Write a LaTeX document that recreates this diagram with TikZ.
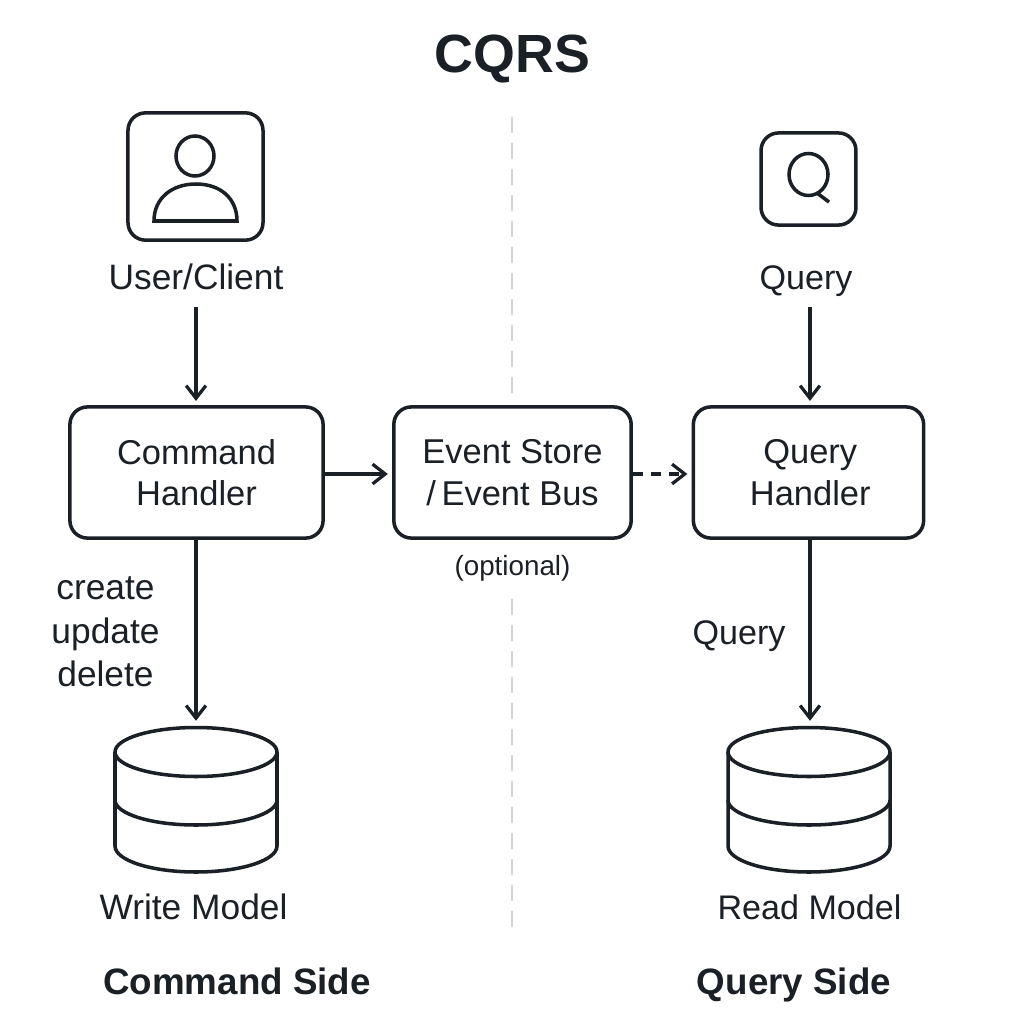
\documentclass[tikz,border=0pt]{standalone}
\usepackage{fontspec}
\setmainfont{Liberation Sans}
\usetikzlibrary{arrows.meta,positioning}
\definecolor{ink}{HTML}{1B2026}
\definecolor{divgray}{HTML}{D0D4DA}
\tikzset{
  px/.style={x=0.01cm,y=-0.01cm},
  box/.style={draw=ink,line width=1pt,rounded corners=5pt,fill=white,align=center,inner sep=0pt,font=\fontsize{9.8}{11.8}\selectfont,text=ink},
  icon/.style={draw=ink,line width=1pt,fill=white,rounded corners=5pt,inner sep=0pt},
  glyph/.style={draw=ink,line width=1pt},
  lbl/.style={text=ink,inner sep=0pt,align=center,font=\fontsize{9.7}{12.4}\selectfont},
  lblw/.style={text=ink,inner sep=0pt,align=center,font=\fontsize{10.05}{12.4}\selectfont},
  base/.style={anchor=base},
  head/.style={text=ink,inner sep=0pt,anchor=base,font=\fontsize{10.45}{12}\selectfont\bfseries},
  conn/.style={draw=ink,line width=0.92pt,shorten >=1.2pt,-{Straight Barb[length=3.6pt,width=5.6pt,line width=0.92pt]}},
  dashconn/.style={conn,dash pattern=on 2.8pt off 2.3pt},
  divider/.style={draw=divgray,line width=0.8pt,dash pattern=on 4.55pt off 2.85pt},
}
\begin{document}
\begin{tikzpicture}[px]
\useasboundingbox (0,0) rectangle (1024,1024);
\fill[white] (0,0) rectangle (1024,1024);
% divider
\coordinate (d1) at (512,117); \coordinate (d2) at (512,394);
\coordinate (d3) at (512,599); \coordinate (d4) at (512,928);
\draw[divider] (d1) -- (d2);
\draw[divider] (d3) -- (d4);
% title
\node[text=ink,inner sep=0pt,anchor=base,font=\fontsize{15.3}{18}\selectfont\bfseries] (title) at (512.5,72) {CQRS};
% icons
\node[icon,minimum width=38.4pt,minimum height=36.2pt] (usericon) at (195.5,176.5) {};
\draw[glyph] (195,156) ellipse (19 and 20);
\draw[glyph,line join=miter] (154,221) .. controls (154,198) and (172,184) .. (196,184) .. controls (220,184) and (237,198) .. (237,221) -- cycle;
\node[icon,minimum width=27pt,minimum height=26.2pt] (queryicon) at (808.5,179) {};
\draw[glyph] (808.5,174.5) ellipse (19.5 and 21);
\draw[glyph] (817,193) -- (829,202);
% labels
\node[lblw,base] (user) at (196,289) {User/Client};
\node[lbl,base] (query) at (806,289) {Query};
% boxes
\node[box,minimum width=72pt,minimum height=37.3pt] (cmd) at (196.5,472.5) {Command\\Handler};
\node[box,minimum width=67.5pt,minimum height=37.3pt] (evt) at (512.5,472.5) {Event Store\\/\,Event Bus};
\node[box,minimum width=65.5pt,minimum height=37.3pt] (qh) at (808.5,472.5) {\hspace*{1pt}Query\\\hspace*{1pt}Handler};
\node[inner sep=0pt,text=ink,base,font=\fontsize{7.9}{9}\selectfont] (opt) at (512.5,575) {(optional)};
% connectors
\coordinate (ustart) at (196,307);
\coordinate (qstart) at (810,307);
\coordinate (wdb) at (196,725);
\coordinate (rdb) at (810,725);
\draw[conn] (ustart) -- (ustart |- cmd.north);
\draw[conn] (qstart) -- (qstart |- qh.north);
\draw[conn] (cmd.east |- 0,474) -- (evt.west |- 0,474);
\draw[dashconn] (evt.east |- 0,474) -- (qh.west |- 0,474);
\draw[conn] (wdb |- cmd.south) -- (wdb);
\draw[conn] (rdb |- qh.south) -- (rdb);
\node[lblw] (cud) at (105.5,632) {create\\update\\delete};
\node[lbl,base] (ql) at (739,644) {Query};
% databases
\foreach \cx in {196,809}{
  \begin{scope}[shift={(\cx,0)}]
    \draw[glyph] (0,752) ellipse (81 and 24.5);
    \draw[glyph] (-81,752) -- (-81,846) arc[start angle=180,end angle=0,x radius=81,y radius=26] -- (81,752);
    \draw[glyph] (-81,800) arc[start angle=180,end angle=0,x radius=81,y radius=25];
  \end{scope}
}
\node[lblw,base] (wm) at (193.5,919) {Write Model};
\node[lbl,base] (rm) at (809.5,919) {Read Model};
\node[head] (cs) at (237,994) {Command Side};
\node[head] (qs) at (794,994) {Query Side};
\end{tikzpicture}
\end{document}
